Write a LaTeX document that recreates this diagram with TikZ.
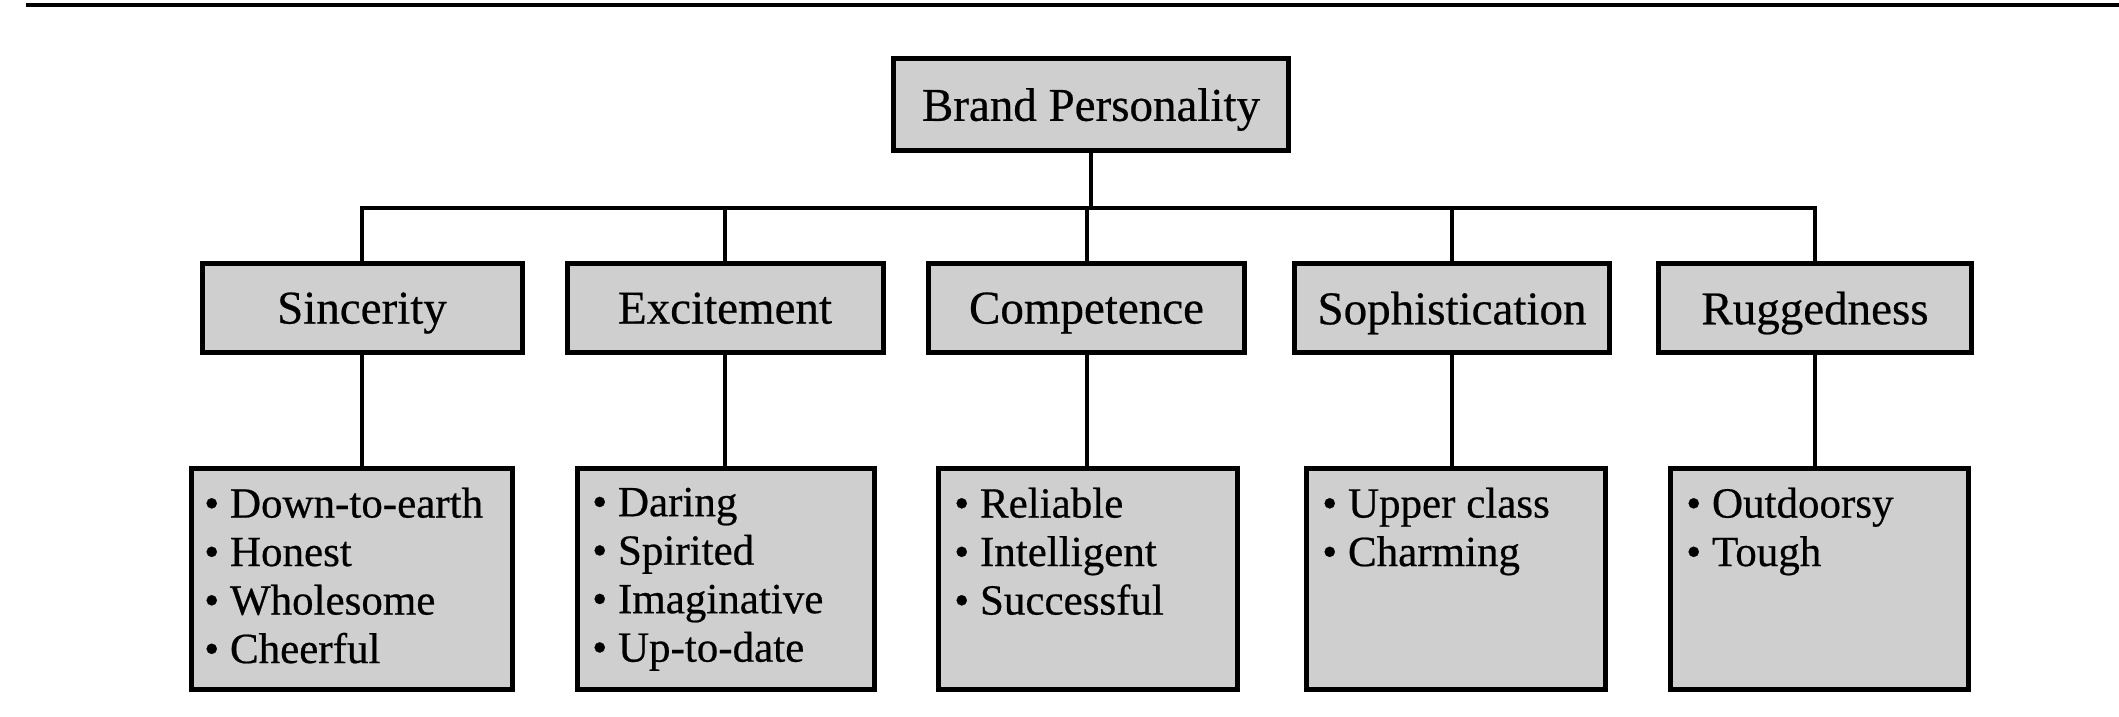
\documentclass[tikz,border=0pt]{standalone}
\usepackage{fontspec}
\setmainfont[FakeBold=0.5]{Liberation Serif}
\begin{document}
\begin{tikzpicture}[x=1pt,y=-1pt,
  box/.style={draw=black, line width=5pt, fill=black!19, inner sep=0pt},
  head/.style={box, font=\fontsize{47}{56}\selectfont, text depth=0pt, minimum height=89pt},
  listbox/.style={box, minimum height=221pt},
  listtext/.style={font=\fontsize{43}{48.5}\selectfont, align=left, anchor=north west, inner sep=0pt},
  conn/.style={line width=4pt}]
\useasboundingbox (0,0) rectangle (2119,716);
% top rule
\coordinate (tl) at (26,4.5);
\coordinate (tr) at (2119,4.5);
\draw[line width=4pt] (tl) -- (tr);
% root
\node[head, minimum width=395pt, minimum height=92pt] (root) at (1091,104.5) {Brand Personality};
% level 2
\node[head, minimum width=320pt] (sinc) at (362,308) {Sincerity};
\node[head, minimum width=316pt] (exci) at (725,308) {Excitement};
\node[head, minimum width=316pt] (comp) at (1086.5,308) {Competence};
\node[head, minimum width=315pt] (soph) at (1452,308) {Sophistication};
\node[head, minimum width=313pt] (rugg) at (1815,308) {Ruggedness};
% level 3 boxes
\node[listbox, minimum width=321pt] (sincl) at (352,579) {};
\node[listbox, minimum width=297pt] (excil) at (726,579) {};
\node[listbox, minimum width=299pt] (compl) at (1088,579) {};
\node[listbox, minimum width=299pt] (sophl) at (1456,579) {};
\node[listbox, minimum width=298pt] (ruggl) at (1819.5,579) {};
% list texts
\node[listtext] (sinct) at ([shift={(15,21.5)}]sincl.north west) {• Down-to-earth\\• Honest\\• Wholesome\\• Cheerful};
\node[listtext] (excit) at ([shift={(17,21.5)}]excil.north west) {• Daring\\• Spirited\\• Imaginative\\• Up-to-date};
\node[listtext] (compt) at ([shift={(18,21.5)}]compl.north west) {• Reliable\\• Intelligent\\• Successful};
\node[listtext] (sopht) at ([shift={(18,21.5)}]sophl.north west) {• Upper class\\• Charming};
\node[listtext] (ruggt) at ([shift={(18,21.5)}]ruggl.north west) {• Outdoorsy\\• Tough};
% connectors
\coordinate (bus) at (1088,207.5);
\draw[conn] (root.south) -- (root.south |- bus);
\draw[conn] (sinc.north) -- (sinc.north |- bus) -- (rugg.north |- bus) -- (rugg.north);
\foreach \n in {exci,comp,soph} \draw[conn] (\n.north) -- (\n.north |- bus);
\foreach \a/\b in {sinc/sincl,exci/excil,comp/compl,soph/sophl,rugg/ruggl}
  \draw[conn] (\a.south) -- (\a.south |- \b.north);
\end{tikzpicture}
\end{document}
